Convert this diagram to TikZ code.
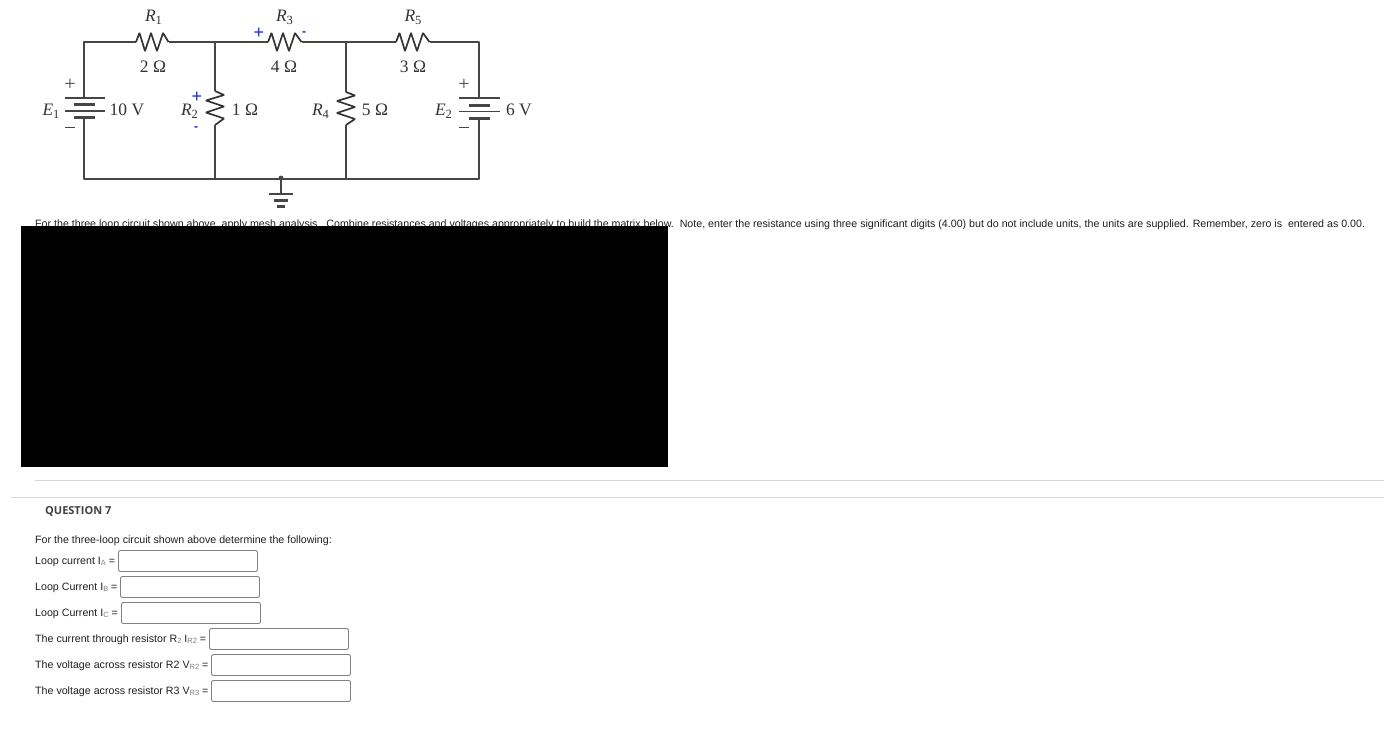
\documentclass[tikz,border=0pt]{standalone}
\usepackage{fontspec}
\setmainfont{Liberation Sans}
\newfontfamily\circfont{Liberation Serif}
\newfontfamily\headfont{Open Sans}
\definecolor{wirec}{RGB}{70,70,70}
\definecolor{txtc}{RGB}{30,30,30}
\definecolor{boxc}{RGB}{130,130,130}
\definecolor{rulec}{RGB}{215,215,215}
\definecolor{plusc}{RGB}{30,30,230}
\newcommand{\Rsym}[1]{{\itshape R}\raisebox{-3pt}{\fontsize{12.5}{12.5}\selectfont #1}}
\newcommand{\Esym}[1]{{\itshape E}\raisebox{-3pt}{\fontsize{12.5}{12.5}\selectfont #1}}
\newcommand{\sbs}[1]{\raisebox{-1.5pt}{\fontsize{7.5}{7.5}\selectfont\color{gray}#1}}
\tikzset{
  wire/.style={draw=wirec,line width=1.3pt,line join=round},
  zig/.style={draw=black!80,line width=1.7pt,line join=bevel},
  plate/.style={draw=wirec,line width=1.7pt},
  thick plate/.style={draw=wirec,line width=3pt},
  ctext/.style={inner sep=0pt,anchor=base,text=black!80,font=\circfont\fontsize{17.5}{17.5}\selectfont},
  sign/.style={inner sep=0pt,anchor=center,text=wirec,font=\circfont\fontsize{20}{20}\selectfont},
  bluesign/.style={inner sep=0pt,anchor=center,text=plusc,font=\fontsize{18}{18}\selectfont},
  blueminus/.style={inner sep=0pt,anchor=center,text=plusc,font=\bfseries\fontsize{12}{12}\selectfont},
  qtext/.style={inner sep=0pt,anchor=base west,text=txtc,font=\fontsize{10.65}{12}\selectfont},
  inbox/.style={draw=boxc,line width=0.9pt,rounded corners=2pt,fill=white},
  rulel/.style={draw=rulec,line width=0.9pt},
  redact/.style={fill=black,draw=none}
}
\begin{document}
\begin{tikzpicture}[x=1pt,y=-1pt]
\useasboundingbox (0,0) rectangle (1384,732);
% free wire points
\coordinate (tl) at (84,42); \coordinate (tr) at (479,42);
\coordinate (bl) at (84,179); \coordinate (br) at (479,179);
\coordinate (j1) at (215,42); \coordinate (j2) at (346,42);
\coordinate (j3) at (215,179); \coordinate (j4) at (346,179);
\coordinate (r1a) at (136,42); \coordinate (r1b) at (169,42);
\coordinate (r3a) at (268,42); \coordinate (r3b) at (302,42);
\coordinate (r5a) at (396,42); \coordinate (r5b) at (430,42);
\coordinate (r2a) at (215,91); \coordinate (r2b) at (215,125);
\coordinate (r4a) at (346,92); \coordinate (r4b) at (346,125);
\coordinate (e1a) at (84,98); \coordinate (e1b) at (84,118);
\coordinate (e2a) at (479,98); \coordinate (e2b) at (479,118);
\coordinate (gnd) at (281,178); \coordinate (gndp) at (281,194);
% wires
\draw[wire] (e1a) -- (tl) -- (r1a);
\draw[wire] (r1b) -- (j1) -- (r3a);
\draw[wire] (r3b) -- (j2) -- (r5a);
\draw[wire] (r5b) -- (tr) -- (e2a);
\draw[wire] (e1b) -- (bl) -- (br) -- (e2b);
\draw[wire] (j1) -- (r2a); \draw[wire] (r2b) -- (j3);
\draw[wire] (j2) -- (r4a); \draw[wire] (r4b) -- (j4);
\draw[wire] (gnd) -- (gndp);
\fill[wirec] (gnd) circle (2.4pt);
% horizontal resistors
\draw[zig] (r1a) -- ++(3.5,-9) -- ++(5.5,18) -- ++(6,-18) -- ++(6,18) -- ++(6,-18) -- ++(5.5,9);
\draw[zig] (r3a) -- ++(3.5,-9) -- ++(5.5,18) -- ++(6,-18) -- ++(6,18) -- ++(6,-18) -- ++(6.5,9);
\draw[zig] (r5a) -- ++(3.5,-9) -- ++(5.5,18) -- ++(6,-18) -- ++(6,18) -- ++(6,-18) -- ++(6.5,9);
% vertical resistors
\draw[zig] (r2a) -- ++(9,4) -- ++(-18,5.5) -- ++(18,6) -- ++(-18,6) -- ++(18,6) -- ++(-9,6.5);
\draw[zig] (r4a) -- ++(9,3.5) -- ++(-18,5.5) -- ++(18,6) -- ++(-18,6) -- ++(18,6) -- ++(-9,6);
% batteries
\draw[plate] (65,98) -- (105,98);
\draw[thick plate] (74,104.5) -- (95,104.5);
\draw[plate] (65,111) -- (105,111);
\draw[thick plate] (74,117.5) -- (95,117.5);
\draw[plate] (459,98) -- (500,98);
\draw[thick plate] (469,105) -- (490,105);
\draw[plate] (459,111.5) -- (500,111.5);
\draw[thick plate] (469,118) -- (490,118);
% ground plates
\draw[plate] (269,194) -- (293,194);
\draw[thick plate] (274,200) -- (288,200);
\draw[thick plate] (277,206) -- (285,206);
% labels
\node[ctext] (lr1) at (153.5,21) {\Rsym{1}};
\node[ctext] (lr3) at (284.5,21) {\Rsym{3}};
\node[ctext] (lr5) at (413,21) {\Rsym{5}};
\node[ctext] (v1) at (153,72) {2 Ω};
\node[ctext] (v3) at (284,72) {4 Ω};
\node[ctext] (v5) at (413,72) {3 Ω};
\node[ctext] (le1) at (51,115) {\Esym{1}};
\node[ctext] (ve1) at (127,115) {10 V};
\node[ctext] (lr2) at (189.5,115) {\Rsym{2}};
\node[ctext] (v2) at (245,115) {1 Ω};
\node[ctext] (lr4) at (320.5,115) {\Rsym{4}};
\node[ctext] (v4) at (375,115) {5 Ω};
\node[ctext] (le2) at (443.5,115) {\Esym{2}};
\node[ctext] (ve2) at (519,115) {6 V};
\node[sign] (p1) at (70,85) {+};
\node[sign] (p2) at (464,85) {+};
\draw[wirec,line width=1pt] (65,127) -- (75,127);
\draw[wirec,line width=1pt] (459,127.5) -- (469,127.5);
\node[bluesign] (bp1) at (259,33) {+};
\node[bluesign] (bp2) at (197,97) {+};
\node[blueminus] (bm1) at (304,34) {-};
\node[blueminus] (bm2) at (196,129) {-};
% instruction, partly hidden by the black block
\node[qtext] (instr) at (35,227) {For the three loop circuit shown above, apply mesh analysis.\ \ Combine resistances and voltages appropriately to build the matrix below.\ \ Note, enter the resistance using three significant digits (4.00) but do not include units, the units are supplied. Remember, zero is\ \ entered as 0.00.};
\fill[redact] (21,226) rectangle (668,467);
% rules
\draw[rulel] (35,480) -- (1384,480);
\draw[rulel] (11,497) -- (1384,497);
% question
\node[inner sep=0pt,anchor=base west,text=black!75,font=\headfont\bfseries\fontsize{11}{12}\selectfont] (q7) at (45,514) {QUESTION 7};
\node[qtext] (q0) at (35,543) {For the three-loop circuit shown above determine the following:};
\node[qtext] (q1) at (35,564) {Loop current I\sbs{A} =};
\node[qtext] (q2) at (35,590) {Loop Current I\sbs{B} =};
\node[qtext] (q3) at (35,616) {Loop Current I\sbs{C} =};
\node[qtext] (q4) at (35,642) {The current through resistor R\sbs{2} I\sbs{R2} =};
\node[qtext] (q5) at (35,668) {The voltage across resistor R2 V\sbs{R2} =};
\node[qtext] (q6) at (35,694) {The voltage across resistor R3 V\sbs{R3} =};
\draw[inbox] (118.5,550.5) rectangle (257.5,571.5);
\draw[inbox] (120.5,576.5) rectangle (259.5,597.5);
\draw[inbox] (121.5,602.5) rectangle (260.5,623.5);
\draw[inbox] (209.5,628.5) rectangle (348.5,649.5);
\draw[inbox] (211.5,654.5) rectangle (350.5,675.5);
\draw[inbox] (211.5,680.5) rectangle (350.5,701.5);
\end{tikzpicture}
\end{document}
